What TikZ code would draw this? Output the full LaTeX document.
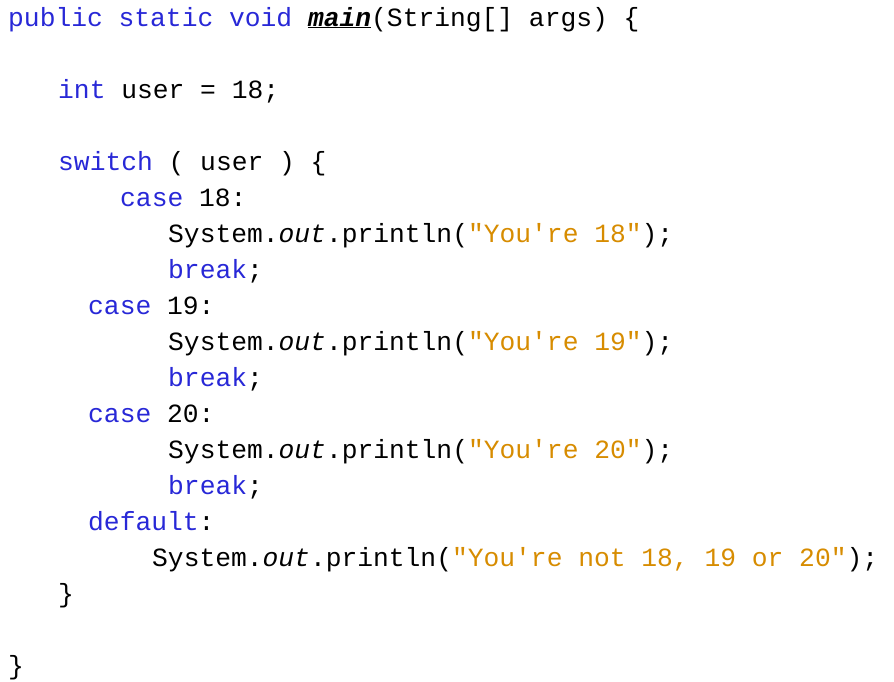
\documentclass[tikz,border=0pt]{standalone}
\usepackage{fontspec}
\setmonofont{Liberation Mono}
\definecolor{kw}{RGB}{40,40,215}
\definecolor{str}{RGB}{215,140,0}
\newcommand\kw[1]{\textcolor{kw}{#1}}
\newcommand\st[1]{\textcolor{str}{#1}}
\begin{document}
\begin{tikzpicture}[x=1pt,y=-1pt,
  code/.style={anchor=base west,inner sep=0pt,font=\fontsize{26.3}{30}\ttfamily}]
\useasboundingbox[fill=white] (0,0) rectangle (894,681);
\node[code] (l1) at (8,26) {\kw{public static void} \underline{\textbf{\textit{main}}}(String[] args) \{};
\node[code] (l2) at (58,98) {\kw{int} user = 18;};
\node[code] (l3) at (58,170) {\kw{switch} ( user ) \{};
\node[code] (l4) at (120,206) {\kw{case} 18:};
\node[code] (l5) at (168,242) {System.\textit{out}.println(\st{"You're 18"});};
\node[code] (l6) at (168,278) {\kw{break};};
\node[code] (l7) at (88,314) {\kw{case} 19:};
\node[code] (l8) at (168,350) {System.\textit{out}.println(\st{"You're 19"});};
\node[code] (l9) at (168,386) {\kw{break};};
\node[code] (l10) at (88,422) {\kw{case} 20:};
\node[code] (l11) at (168,458) {System.\textit{out}.println(\st{"You're 20"});};
\node[code] (l12) at (168,494) {\kw{break};};
\node[code] (l13) at (88,530) {\kw{default}:};
\node[code] (l14) at (152,566) {System.\textit{out}.println(\st{"You're not 18, 19 or 20"});};
\node[code] (l15) at (58,602) {\}};
\node[code] (l16) at (8,674) {\}};
\end{tikzpicture}
\end{document}
